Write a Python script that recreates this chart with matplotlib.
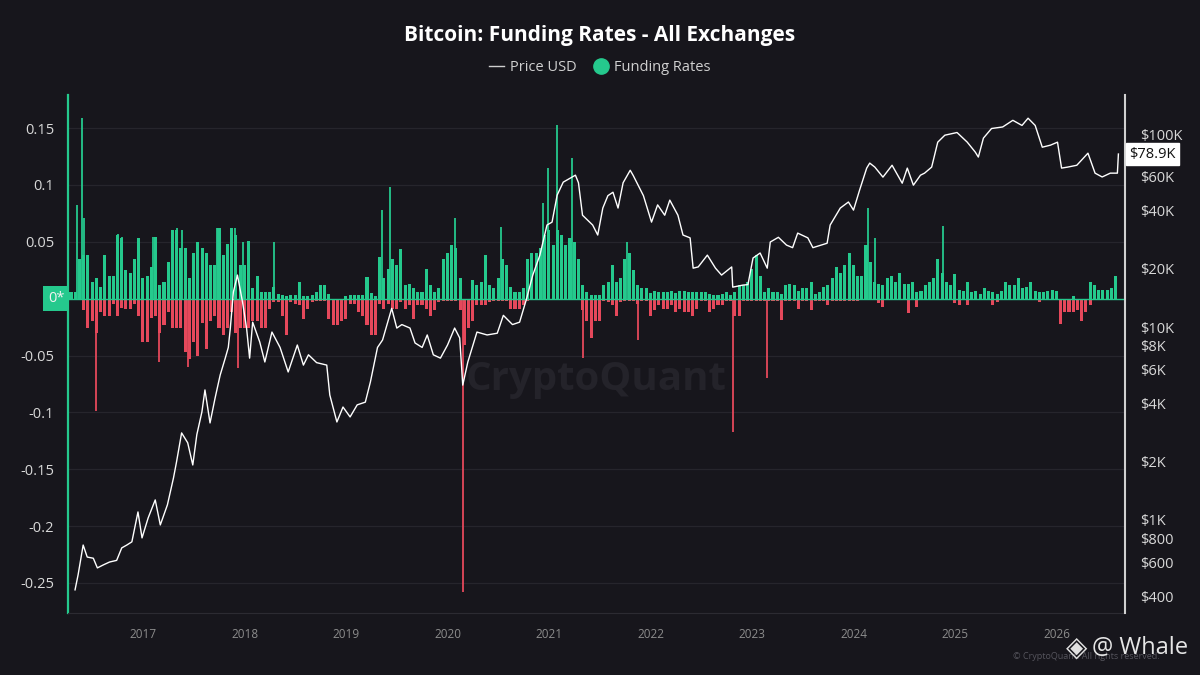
import matplotlib
matplotlib.use("Agg")
import matplotlib.pyplot as plt
import matplotlib.transforms as mtransforms
from matplotlib.lines import Line2D
import numpy as np

plt.rcParams['font.family'] = ['Open Sans', 'DejaVu Sans']

BG = '#17161c'
GREEN = '#25c98d'
RED = '#e5485b'

# bitcoin price (decimal year, usd)
price_dates = [2016.33, 2016.36, 2016.41, 2016.45, 2016.51, 2016.55, 2016.61, 2016.67, 2016.74, 2016.79,
               2016.84, 2016.89, 2016.95, 2016.99, 2017.05, 2017.12, 2017.17, 2017.24, 2017.30, 2017.33,
               2017.38, 2017.44, 2017.49, 2017.53, 2017.58, 2017.61, 2017.66, 2017.71, 2017.76, 2017.81,
               2017.84, 2017.86, 2017.89, 2017.93, 2017.98, 2018.02, 2018.05, 2018.08, 2018.15, 2018.20,
               2018.27, 2018.35, 2018.43, 2018.52, 2018.58, 2018.63, 2018.71, 2018.81, 2018.84, 2018.91,
               2018.97, 2019.04, 2019.11, 2019.19, 2019.24, 2019.31, 2019.36, 2019.45, 2019.50, 2019.55,
               2019.63, 2019.68, 2019.75, 2019.80, 2019.86, 2019.93, 2020.00, 2020.07, 2020.12, 2020.15,
               2020.20, 2020.29, 2020.39, 2020.49, 2020.55, 2020.64, 2020.71, 2020.78, 2020.84, 2020.91,
               2020.98, 2021.03, 2021.08, 2021.14, 2021.21, 2021.26, 2021.29, 2021.33, 2021.43, 2021.48,
               2021.53, 2021.58, 2021.63, 2021.68, 2021.73, 2021.80, 2021.83, 2021.93, 2022.01, 2022.07,
               2022.14, 2022.19, 2022.27, 2022.32, 2022.39, 2022.42, 2022.47, 2022.56, 2022.64, 2022.70,
               2022.80, 2022.81, 2022.91, 2022.96, 2023.01, 2023.08, 2023.15, 2023.18, 2023.26, 2023.34,
               2023.40, 2023.45, 2023.55, 2023.60, 2023.74, 2023.77, 2023.87, 2023.95, 2024.00, 2024.06,
               2024.13, 2024.16, 2024.21, 2024.29, 2024.38, 2024.48, 2024.53, 2024.59, 2024.66, 2024.70,
               2024.77, 2024.83, 2024.90, 2025.02, 2025.12, 2025.20, 2025.23, 2025.28, 2025.36, 2025.47,
               2025.57, 2025.66, 2025.72, 2025.79, 2025.86, 2025.94, 2026.01, 2026.05, 2026.11, 2026.20,
               2026.31, 2026.38, 2026.45, 2026.53, 2026.60, 2026.61]
price_usd = [434, 519, 741, 642, 633, 564, 585, 605, 617, 716,
             741, 770, 1100, 807, 1023, 1270, 942, 1197, 1652, 2000,
             2826, 2512, 1927, 2770, 3631, 4721, 3183, 4290, 5640, 6900,
             7840, 9880, 15200, 18600, 13500, 9880, 6900, 10600, 8360, 6590,
             9420, 7840, 5850, 8070, 6350, 7180, 6540, 6350, 4446, 3220,
             3850, 3420, 3950, 4080, 5190, 7840, 8570, 12500, 9880, 10300,
             9880, 8270, 7840, 9100, 7180, 6900, 8070, 9880, 8780, 5000,
             6590, 9420, 9100, 9290, 11500, 10300, 10600, 14100, 18600, 23600,
             33800, 35000, 48300, 56400, 59200, 61300, 56000, 38000, 33800, 30000,
             41400, 48000, 50000, 41400, 56000, 65000, 61000, 48000, 35000, 43000,
             38000, 45500, 38000, 30000, 29000, 20200, 20500, 23600, 20200, 18600,
             20500, 16100, 16500, 16600, 22800, 24200, 20200, 27600, 29200, 26600,
             25800, 30700, 29000, 25800, 27200, 33800, 41400, 44500, 40400, 51300,
             66700, 70800, 67500, 59900, 69000, 55700, 66700, 54400, 61300, 62800,
             67500, 90900, 98800, 102000, 91000, 80700, 76100, 95400, 107000, 109000,
             118000, 111000, 121000, 111000, 85600, 87700, 90900, 66700, 67500, 69000,
             79700, 62800, 60000, 62800, 62800, 78900]

# funding rates, half-month steps from fr_start: upper and lower extent in each step
fr_start = 2016.29
fr_pos = [0.006, 0.006, 0.035, 0.038, 0.038, 0.015, 0.018, 0.010, 0.038, 0.020,
          0.020, 0.056, 0.053, 0.025, 0.023, 0.035, 0.053, 0.018, 0.020, 0.028,
          0.054, 0.012, 0.015, 0.032, 0.060, 0.060, 0.045, 0.045, 0.018, 0.040,
          0.050, 0.045, 0.040, 0.030, 0.030, 0.062, 0.038, 0.048, 0.062, 0.056,
          0.030, 0.030, 0.051, 0.009, 0.020, 0.006, 0.006, 0.006, 0.010, 0.004,
          0.003, 0.002, 0.003, 0.003, 0.015, 0.002, 0.002, 0.003, 0.006, 0.012,
          0.012, 0.004, 0.000, 0.000, 0.000, 0.002, 0.003, 0.003, 0.003, 0.003,
          0.019, 0.005, 0.002, 0.037, 0.018, 0.026, 0.035, 0.030, 0.044, 0.012,
          0.013, 0.009, 0.006, 0.006, 0.026, 0.012, 0.006, 0.009, 0.035, 0.040,
          0.047, 0.045, 0.018, 0.000, 0.000, 0.016, 0.012, 0.015, 0.038, 0.012,
          0.009, 0.018, 0.035, 0.030, 0.010, 0.006, 0.006, 0.009, 0.035, 0.040,
          0.040, 0.045, 0.056, 0.060, 0.047, 0.060, 0.056, 0.047, 0.053, 0.050,
          0.035, 0.012, 0.006, 0.003, 0.003, 0.003, 0.012, 0.015, 0.030, 0.015,
          0.018, 0.035, 0.040, 0.025, 0.012, 0.009, 0.009, 0.005, 0.007, 0.006,
          0.006, 0.006, 0.007, 0.005, 0.007, 0.007, 0.006, 0.006, 0.006, 0.006,
          0.006, 0.004, 0.003, 0.003, 0.004, 0.006, 0.003, 0.006, 0.012, 0.012,
          0.015, 0.026, 0.038, 0.020, 0.006, 0.009, 0.006, 0.006, 0.004, 0.012,
          0.013, 0.012, 0.007, 0.009, 0.009, 0.015, 0.004, 0.006, 0.010, 0.012,
          0.018, 0.028, 0.023, 0.030, 0.040, 0.030, 0.020, 0.020, 0.047, 0.032,
          0.015, 0.013, 0.012, 0.018, 0.020, 0.015, 0.023, 0.013, 0.013, 0.015,
          0.006, 0.007, 0.012, 0.015, 0.018, 0.035, 0.023, 0.015, 0.012, 0.022,
          0.008, 0.007, 0.015, 0.006, 0.007, 0.004, 0.009, 0.007, 0.006, 0.004,
          0.007, 0.015, 0.012, 0.012, 0.018, 0.009, 0.010, 0.015, 0.007, 0.006,
          0.006, 0.007, 0.008, 0.007, 0.000, 0.000, 0.000, 0.002, 0.000, 0.000,
          0.000, 0.015, 0.012, 0.008, 0.008, 0.008, 0.009, 0.020]
fr_neg = [0, 0, 0, -0.010, -0.026, -0.020, -0.030, -0.012, -0.015, -0.015,
          -0.005, -0.015, -0.008, -0.009, -0.009, -0.005, -0.015, -0.038, -0.038, -0.017,
          -0.015, -0.030, -0.023, -0.012, -0.026, -0.026, -0.026, -0.047, -0.053, -0.038,
          -0.050, -0.021, -0.044, -0.020, -0.015, -0.026, -0.032, -0.026, -0.012, -0.030,
          -0.026, -0.026, -0.026, -0.020, -0.020, -0.026, -0.026, -0.009, -0.003, -0.003,
          -0.015, -0.032, -0.003, -0.005, -0.006, -0.018, -0.009, -0.003, -0.002, -0.002,
          -0.002, -0.018, -0.023, -0.023, -0.020, -0.018, -0.005, -0.005, -0.012, -0.015,
          -0.023, -0.032, -0.032, -0.005, -0.009, -0.005, -0.009, -0.009, -0.003, -0.009,
          -0.006, -0.018, -0.006, -0.006, -0.009, -0.015, -0.010, -0.003, -0.002, -0.002,
          -0.002, -0.002, -0.010, -0.041, -0.026, -0.020, -0.006, -0.006, -0.006, -0.003,
          -0.002, -0.002, -0.002, -0.002, -0.009, -0.009, -0.009, -0.006, -0.002, 0,
          0, 0, 0, 0, 0, 0, 0, 0, 0, 0,
          0, -0.010, -0.020, -0.035, -0.020, -0.020, -0.002, -0.003, -0.006, -0.015,
          -0.003, -0.002, -0.002, -0.002, -0.005, -0.002, -0.002, -0.015, -0.010, -0.006,
          -0.009, -0.009, -0.006, -0.012, -0.009, -0.012, -0.012, -0.015, -0.009, -0.002,
          -0.002, -0.012, -0.009, -0.006, -0.006, -0.002, -0.002, -0.015, -0.015, -0.002,
          -0.002, -0.002, -0.002, -0.002, -0.002, -0.002, -0.002, -0.002, -0.019, -0.002,
          -0.002, -0.002, -0.009, -0.002, -0.002, -0.010, -0.002, -0.002, -0.002, -0.006,
          -0.002, -0.002, -0.002, -0.002, -0.002, -0.002, -0.002, 0, 0, 0,
          0, -0.004, -0.007, 0, 0, 0, 0, 0, -0.013, 0,
          -0.007, 0, 0, 0, 0, 0, 0, 0, 0, -0.004,
          -0.006, 0, -0.006, 0, 0, 0, 0, 0, -0.006, -0.003,
          0, 0, 0, 0, 0, 0, 0, 0, 0, -0.003,
          0, 0, 0, 0, -0.022, -0.012, -0.012, -0.012, -0.010, -0.020,
          -0.012, -0.006, 0, 0, 0, 0, 0, 0]

# single-day extremes
spike_dates = [2016.35, 2016.40, 2016.42, 2016.54, 2016.75, 2016.79, 2016.96, 2017.10, 2017.16, 2017.33,
               2017.38, 2017.44, 2017.73, 2017.91, 2017.94, 2017.98, 2018.29, 2019.35, 2019.43, 2020.07,
               2020.15, 2020.53, 2020.94, 2020.99, 2021.08, 2021.23, 2021.33, 2021.77, 2021.88, 2022.81,
               2023.15, 2024.14, 2024.21, 2024.88]
spike_vals = [0.082, 0.159, 0.071, -0.099, 0.057, 0.054, 0.053, 0.054, -0.056, 0.062,
              0.060, -0.060, 0.062, 0.062, -0.061, 0.050, 0.050, 0.078, 0.098, 0.071,
              -0.258, 0.063, 0.084, 0.115, 0.153, 0.124, -0.052, 0.050, -0.036, -0.117,
              -0.070, 0.080, 0.053, 0.064]

years = list(range(2017, 2027))
fr_ticks = [0.15, 0.1, 0.05, 0, -0.05, -0.1, -0.15, -0.2, -0.25]
price_ticks = [400, 600, 800, 1000, 2000, 4000, 6000, 8000, 10000, 20000, 40000, 60000, 100000]
price_labels = ['$400', '$600', '$800', '$1K', '$2K', '$4K', '$6K', '$8K', '$10K',
                '$20K', '$40K', '$60K', '$100K']

fig = plt.figure(figsize=(12, 6.75), dpi=100, facecolor=BG)
ax = fig.add_axes([0.0567, 0.092, 0.8808, 0.767])
ax.set_facecolor(BG)

step = 1 / 24
fr_x = fr_start + np.arange(len(fr_pos)) * step
ax.bar(fr_x, fr_pos, width=step * 0.72, color=GREEN, linewidth=0, zorder=2)
ax.bar(fr_x, fr_neg, width=step * 0.72, color=RED, linewidth=0, zorder=2)
sv = np.array(spike_vals)
sd = np.array(spike_dates)
ax.vlines(sd[sv > 0], 0, sv[sv > 0], color=GREEN, lw=1.3, zorder=2)
ax.vlines(sd[sv < 0], 0, sv[sv < 0], color=RED, lw=1.3, zorder=2)
ax.axhline(0, color=GREEN, lw=1.0, zorder=2)

ax.set_xlim(2016.261, 2026.675)
ax.set_ylim(-0.2764, 0.179)
ax.set_yticks(fr_ticks)
ax.set_yticklabels(['0.15', '0.1', '0.05', '', '-0.05', '-0.1', '-0.15', '-0.2', '-0.25'])
ax.set_xticks(years)
ax.set_xticklabels([str(y) for y in years])
ax.tick_params(axis='y', length=0, pad=10, labelsize=10.5, labelcolor='#d8d8d8')
ax.tick_params(axis='x', length=0, pad=11, labelsize=8.5, labelcolor='#8c8c8c')
ax.grid(axis='y', color='#26252c', lw=0.9)
ax.set_axisbelow(True)
for s in ['top', 'right']:
    ax.spines[s].set_visible(False)
ax.spines['bottom'].set_color('#2c2b32')
ax.spines['left'].set_color(GREEN)
ax.spines['left'].set_linewidth(1.6)

trans = mtransforms.blended_transform_factory(ax.transAxes, ax.transData)
ax.text(-0.0035, 0, '0*', transform=trans, ha='right', va='center', fontsize=10.5, color='#f2f2f2',
        bbox=dict(boxstyle='square,pad=0.35', fc=GREEN, ec='none'), zorder=5)

# watermark
ax.text(0.5, 0.45, 'CryptoQuant', transform=ax.transAxes, ha='center', va='center', fontsize=29,
        fontweight='bold', color='#24232a', zorder=1)

ax2 = ax.twinx()
ax2.plot(price_dates, price_usd, color='white', lw=1.0, zorder=3)
ax2.set_yscale('log')
ax2.set_ylim(329.6, 159300)
ax2.set_yticks(price_ticks)
ax2.set_yticklabels(price_labels)
ax2.yaxis.set_minor_locator(matplotlib.ticker.NullLocator())
ax2.tick_params(axis='y', length=0, pad=11, labelsize=10.5, labelcolor='#d8d8d8')
for s in ['top', 'left', 'bottom']:
    ax2.spines[s].set_visible(False)
ax2.spines['right'].set_color('#d0d0d0')
ax2.spines['right'].set_linewidth(1.5)

trans2 = mtransforms.blended_transform_factory(ax2.transAxes, ax2.transData)
ax2.text(1.004, price_usd[-1], '$78.9K', transform=trans2, ha='left', va='center', fontsize=10.5,
         color='#111111', bbox=dict(boxstyle='square,pad=0.25', fc='white', ec='white'), zorder=6)

fig.text(0.5, 0.948, 'Bitcoin: Funding Rates - All Exchanges', ha='center', va='center',
         fontsize=15, fontweight='bold', color='white')
handles = [Line2D([], [], color='#cfcfcf', lw=1),
           Line2D([], [], color=GREEN, marker='o', ls='none', markersize=11)]
fig.legend(handles, ['Price USD', 'Funding Rates'], loc='center', bbox_to_anchor=(0.5, 0.9),
           ncol=2, frameon=False, fontsize=10.5, labelcolor='#d0d0d0', handlelength=1.0,
           handletextpad=0.4, columnspacing=1.2)

fig.text(0.905, 0.028, '\u00a9 CryptoQuant. All rights reserved.', ha='center', va='center',
         fontsize=6.5, color='#55545c')
fig.text(0.897, 0.04, '\u25c8', ha='center', va='center', fontsize=20, color='#e0e0e0',
         family='DejaVu Sans')
fig.text(0.99, 0.04, '@ Whale', ha='right', va='center', fontsize=17, color='#e6e6e6')

fig.savefig('out.png', dpi=100, facecolor=BG)
